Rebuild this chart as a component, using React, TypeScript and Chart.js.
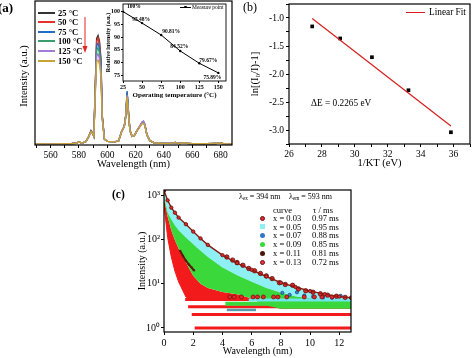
import React, { useEffect, useRef } from 'react';
import { Chart, registerables } from 'chart.js';
Chart.register(...registerables);

const FONT = "'Liberation Serif', 'Times New Roman', serif";
Chart.defaults.font.family = FONT;
Chart.defaults.color = '#000';

// ---------- Panel (a): emission spectra ----------
const wavelengths = [549, 560, 570, 575, 578, 580, 582, 585, 587, 588.5, 589.5, 590.5, 591.5, 592.5, 593.5, 594.5, 595.5, 596.5, 598, 600, 605, 608, 610, 612, 613, 614, 615, 616, 617.5, 619, 621, 623, 624.5, 625.5, 626.5, 628, 630, 633, 638, 645, 648, 651, 655, 657, 660, 670, 677, 679, 682, 688];
const spec25 = [0.8, 0.8, 0.9, 1.0, 1.2, 2.2, 1.2, 2.5, 6, 10, 8.5, 6, 40, 74, 76, 72, 60, 20, 4, 2.5, 2.2, 2.8, 9, 13, 20, 36, 22, 10, 6, 6.5, 10, 13, 15.5, 16, 14, 7, 3, 1.6, 1.2, 1.1, 1.8, 1.1, 1.6, 1.0, 0.9, 0.9, 1.0, 1.5, 0.9, 0.8];
const spec50 = [0.8, 0.8, 0.9, 1.0, 1.2, 2.2, 1.2, 2.5, 6, 9.8, 8.4, 6, 39, 72, 74.3, 70, 58, 19.5, 4, 2.5, 2.2, 2.8, 9, 13, 20, 36.5, 22, 10, 6, 6.5, 10, 13, 15.5, 16, 14, 7, 3, 1.6, 1.2, 1.1, 1.8, 1.1, 1.6, 1.0, 0.9, 0.9, 1.0, 1.5, 0.9, 0.8];
const spec75 = [0.8, 0.8, 0.9, 1.0, 1.2, 2.2, 1.2, 2.5, 6, 9.6, 8.3, 6, 38, 69, 70.8, 67, 56, 19, 4, 2.5, 2.2, 2.8, 9, 13, 20.5, 37.5, 22.5, 10, 6, 6.5, 10, 13, 15.5, 16.2, 14, 7, 3, 1.6, 1.2, 1.1, 1.8, 1.1, 1.6, 1.0, 0.9, 0.9, 1.0, 1.5, 0.9, 0.8];
const spec100 = [0.8, 0.8, 0.9, 1.0, 1.2, 2.2, 1.2, 2.5, 6, 9.4, 8.2, 6, 37, 66, 67.4, 64, 54, 18.5, 4, 2.5, 2.2, 2.8, 9, 13, 19.5, 35, 21.5, 10, 6, 6.5, 10, 13.2, 15.8, 16.3, 14.2, 7, 3, 1.6, 1.2, 1.1, 1.8, 1.1, 1.6, 1.0, 0.9, 0.9, 1.0, 1.5, 0.9, 0.8];
const spec125 = [0.8, 0.8, 0.9, 1.0, 1.2, 2.2, 1.2, 2.5, 6, 9.2, 8.1, 6, 36, 62, 63.2, 60, 51, 18, 4, 2.5, 2.2, 2.8, 9, 13, 19.5, 34.5, 21, 10, 6, 6.5, 10, 13.4, 16, 16.7, 14.5, 7, 3, 1.6, 1.2, 1.1, 1.8, 1.1, 1.6, 1.0, 0.9, 0.9, 1.0, 1.5, 0.9, 0.8];
const spec150 = [0.8, 0.8, 0.9, 1.0, 1.2, 2.2, 1.2, 2.5, 6, 9.0, 8.0, 6, 35, 58, 59, 56, 48, 17.5, 4, 2.5, 2.2, 2.8, 9, 13, 19, 33.5, 20.5, 10, 6, 6.5, 10, 12.8, 14.5, 15, 13.5, 7, 3, 1.6, 1.2, 1.1, 1.8, 1.1, 1.6, 1.0, 0.9, 0.9, 1.0, 1.5, 0.9, 0.8];
const tempLabels = ['25 °C', '50 °C', '75 °C', '100 °C', '125 °C', '150 °C'];
const tempColors = ['#333333', '#e8302a', '#1f6fc4', '#3a9e6e', '#a27ad8', '#c9a23a'];
const spectra = [spec25, spec50, spec75, spec100, spec125, spec150];
const wlTicks = [550, 560, 570, 580, 590, 600, 610, 620, 630, 640, 650, 660, 670, 680];

// inset
const opTemp = [25, 50, 75, 100, 125, 150];
const relIntensity = [100, 95.48, 90.81, 84.52, 79.67, 75.89];
const relLabels = ['100%', '95.48%', '90.81%', '84.52%', '79.67%', '75.89%'];
const insetXTicks = [25, 50, 75, 100, 125, 150];
const insetYTicks = [75, 80, 85, 90, 95, 100];

// ---------- Panel (b) ----------
const invKT = [27.41, 29.11, 31.04, 33.26, 35.84];
const lnRatio = [-1.15, -1.365, -1.70, -2.29, -3.04];
const fitX = [27.41, 35.84];
const fitY = [-1.01, -2.93];

// ---------- Panel (c): decay curves ----------
const tBand = [0, 0.25, 0.5, 0.75, 1, 1.5, 2, 2.5, 3, 4, 5, 6, 7, 8, 9, 10, 11, 12, 12.8];
const topI = [1250, 760, 520, 400, 310, 220, 150, 105, 75, 44, 29, 20.5, 14.5, 10.5, 8.4, 6.8, 5.8, 5.1, 4.8];
const greenUp = [900, 400, 280, 205, 160, 110, 78, 55, 40, 23, 15.5, 11, 8, 6.2, 5.1, 4.6, 4.3, 4.1, 4.0];
const greenLo = [850, 330, 160, 95, 62, 30, 15, 10, 8, 6.5, 5.8, 4.6, 3.2, 2.7, 2.7, 2.7, 2.7, 2.7, 2.7];
const redLo = [600, 110, 40, 19, 11, 5, 4.2, 4.2, 4.2, 4.2, 4.2, 4.2, 4.2, 4.2, 4.2, 4.2, 4.2, 4.2, 4.2];
const tEnd = 12.8;
const redFloorLevel = [4.4, 3, 2, 1];
const redFloorStart = [1.45, 1.65, 1.9, 2.1];
const greenFloor = { level: 3.5, start: 4.2 };
const blueFloor = { level: 2.55, start: 4.3, end: 6.3 };
const cyanFloor = { level: 4.3, start: 5.8 };
const tTopDots = [4.3, 4.7, 5.0, 5.4, 5.8, 6.2, 6.6, 7.0, 7.4, 7.9, 8.3, 8.8, 9.2, 9.7, 10.2, 10.7, 11.2, 11.8, 12.4];
const vTopDots = [40, 34, 30, 26, 22, 19.5, 17, 15, 13, 10.5, 9.6, 9.2, 7.6, 6.9, 6.4, 5.9, 5.5, 5.2, 4.9];
const tRedDots = [4.5, 4.8, 5.3, 6.1, 6.4, 6.8, 7.5, 7.8, 8.4, 9.6, 10.3, 10.8, 11.5];
const vRedDots = [5, 5, 5, 5, 5, 5, 5, 5, 5, 5, 5, 5, 5];
const tBlueDots = [8.1, 8.6, 9.1, 9.6, 10.2, 10.9, 11.5, 12.1];
const vBlueDots = [6.2, 5.6, 6.4, 5.4, 5.1, 4.9, 4.8, 5.3];
const tBrown = [1.1, 1.3, 1.5, 1.7, 1.9, 2.05];
const vBrown = [55, 42, 33, 27, 23, 20];
const curveNames = ['x = 0.03', 'x = 0.05', 'x = 0.07', 'x = 0.09', 'x = 0.11', 'x = 0.13'];
const tauValues = ['0.97 ms', '0.95 ms', '0.88 ms', '0.85 ms', '0.81 ms', '0.72 ms'];
const curveColors = ['#e02a2a', '#8ff0f4', '#2f78c8', '#3ad83a', '#4a140a', '#f0303c'];

const pts = (xs: number[], ys: number[]) => xs.map((x, i) => ({ x, y: ys[i] }));

const fitW = (w: number) => (s: any) => { s.width = w; s.paddingLeft = 0; s.paddingRight = 0; s.paddingTop = 0; s.paddingBottom = 0; };
const fitH = (h: number) => (s: any) => { s.height = h; s.paddingLeft = 0; s.paddingRight = 0; s.paddingTop = 0; s.paddingBottom = 0; };
const fixedTicks = (vals: number[]) => (s: any) => { s.ticks = vals.map((v) => ({ value: v })); };

const framePlugin = {
  id: 'frame',
  afterDatasetsDraw(chart: any) {
    const { ctx, chartArea: a } = chart;
    const w = chart.options.plugins.frame?.width ?? 1.2;
    ctx.save();
    ctx.strokeStyle = '#000';
    ctx.lineWidth = w;
    ctx.strokeRect(a.left, a.top, a.right - a.left, a.bottom - a.top);
    ctx.restore();
  },
};

const whiteAreaPlugin = {
  id: 'whiteArea',
  beforeDatasetsDraw(chart: any) {
    const { ctx, chartArea: a } = chart;
    ctx.save();
    ctx.fillStyle = '#fff';
    ctx.fillRect(a.left, a.top, a.right - a.left, a.bottom - a.top);
    ctx.restore();
  },
};

const arrowPlugin = {
  id: 'arrow',
  afterDraw(chart: any) {
    const ctx = chart.ctx;
    ctx.save();
    ctx.strokeStyle = '#e8221e';
    ctx.fillStyle = '#e8221e';
    ctx.lineWidth = 1;
    ctx.beginPath();
    ctx.moveTo(85, 17);
    ctx.lineTo(85, 47);
    ctx.stroke();
    ctx.beginPath();
    ctx.moveTo(82.5, 46);
    ctx.lineTo(87.5, 46);
    ctx.lineTo(85, 53);
    ctx.closePath();
    ctx.fill();
    ctx.restore();
  },
};

const labelOffsets: [number, number, CanvasTextAlign][] = [[4, -5, 'left'], [-1, -4, 'center'], [1, -3, 'left'], [-1, -4, 'center'], [0, -3, 'left'], [-6, 5, 'center']];
const insetLabelPlugin = {
  id: 'insetLabels',
  afterDatasetsDraw(chart: any) {
    const { ctx } = chart;
    const xs = chart.scales.x, ys = chart.scales.y;
    ctx.save();
    ctx.font = `bold 5.5px ${FONT}`;
    ctx.fillStyle = '#000';
    ctx.textBaseline = 'middle';
    opTemp.forEach((t, i) => {
      const [dx, dy, al] = labelOffsets[i];
      ctx.textAlign = al;
      ctx.fillText(relLabels[i], xs.getPixelForValue(t) + dx, ys.getPixelForValue(relIntensity[i]) + dy);
    });
    ctx.restore();
  },
};

const tickGrid = (len: number) => ({ display: true, drawOnChartArea: false, drawTicks: true, tickLength: len, color: '#000', lineWidth: 1 });

function useChart(ref: any, make: () => any) {
  useEffect(() => {
    const chart = new Chart(ref.current, make());
    return () => chart.destroy();
  }, []);
}

const baseOpts = { animation: false, responsive: false, devicePixelRatio: 1, plugins: { legend: { display: false }, tooltip: { enabled: false } } };

function PanelA() {
  const ref = useRef<HTMLCanvasElement>(null);
  useChart(ref, () => ({
    type: 'line',
    data: {
      datasets: spectra.map((s, i) => ({
        label: tempLabels[i], data: pts(wavelengths, s), borderColor: tempColors[i], borderWidth: 1.4,
        pointRadius: 0, tension: 0, fill: false, order: 5 - i,
      })),
    },
    options: {
      ...baseOpts,
      layout: { padding: { left: 0, top: 1, right: 5, bottom: 0 } },
      scales: {
        x: {
          type: 'linear', min: 549, max: 688, bounds: 'data', afterFit: fitH(35), afterBuildTicks: fixedTicks(wlTicks),
          ticks: { autoSkip: false, maxRotation: 0, padding: 2, font: { size: 9.5 }, callback: (v: number) => (v % 20 === 0 ? String(v) : '') },
          grid: tickGrid(3), border: { display: false },
          title: { display: true, text: 'Wavelength (nm)', font: { size: 10.5 }, padding: { top: 0, bottom: 9 } },
        },
        y: {
          type: 'linear', min: 0, max: 100, bounds: 'data', afterFit: fitW(35),
          ticks: { display: false }, grid: { display: false }, border: { display: false },
        },
      },
    },
    plugins: [framePlugin, arrowPlugin],
  }));
  return <canvas ref={ref} width={237} height={180} style={{ position: 'absolute', left: 0, top: 0, width: 237, height: 180 }} />;
}

function Inset() {
  const ref = useRef<HTMLCanvasElement>(null);
  useChart(ref, () => ({
    type: 'line',
    data: {
      datasets: [{
        label: 'Measure point', data: pts(opTemp, relIntensity), borderColor: '#000', borderWidth: 1,
        pointRadius: 1.2, pointBackgroundColor: '#000', pointBorderWidth: 0, tension: 0, fill: false,
      }],
    },
    options: {
      ...baseOpts,
      plugins: { ...baseOpts.plugins, frame: { width: 0.9 } },
      layout: { padding: { left: 0, top: 1, right: 6, bottom: 0 } },
      scales: {
        x: {
          type: 'linear', min: 25, max: 160, bounds: 'data', afterFit: fitH(19), afterBuildTicks: fixedTicks(insetXTicks),
          ticks: { autoSkip: false, maxRotation: 0, padding: 1, font: { size: 6, weight: 'bold' } },
          grid: tickGrid(2), border: { display: false },
          title: { display: true, text: 'Operating temperature (°C)', font: { size: 7, weight: 'bold' }, padding: { top: 0, bottom: 0.8 } },
        },
        y: {
          type: 'linear', min: 72.7, max: 103, bounds: 'data', afterFit: fitW(20), afterBuildTicks: fixedTicks(insetYTicks),
          ticks: { autoSkip: false, padding: 1, font: { size: 6, weight: 'bold' } },
          grid: tickGrid(2), border: { display: false },
          title: { display: true, text: 'Relative intensity (a.u.)', font: { size: 6, weight: 'bold' }, padding: { top: 1.4, bottom: 0 } },
        },
      },
    },
    plugins: [whiteAreaPlugin, framePlugin, insetLabelPlugin],
  }));
  return <canvas ref={ref} width={129} height={100} style={{ position: 'absolute', left: 103, top: 0, width: 129, height: 100 }} />;
}

function PanelB() {
  const ref = useRef<HTMLCanvasElement>(null);
  useChart(ref, () => ({
    type: 'scatter',
    data: {
      datasets: [
        { label: 'Linear Fit', data: pts(fitX, fitY), showLine: true, borderColor: '#d81e1e', borderWidth: 1.2, pointRadius: 0, order: 0 },
        { label: 'data', data: pts(invKT, lnRatio), pointStyle: 'rect', pointRadius: 2.6, backgroundColor: '#000', borderColor: '#000', borderWidth: 0, order: 1 },
      ],
    },
    options: {
      ...baseOpts,
      layout: { padding: { left: 0, top: 1, right: 1, bottom: 0 } },
      scales: {
        x: {
          type: 'linear', min: 26, max: 37, bounds: 'data', afterFit: fitH(36),
          ticks: { stepSize: 1, autoSkip: false, maxRotation: 0, padding: 2, font: { size: 9.5 }, callback: (v: number) => (v % 2 === 0 ? String(v) : '') },
          grid: tickGrid(3), border: { display: false },
          title: { display: true, text: '1/KT (eV)', font: { size: 10.5 }, padding: { top: 0, bottom: 10 } },
        },
        y: {
          type: 'linear', min: -3.25, max: -0.75, bounds: 'data', afterFit: fitW(52),
          ticks: { stepSize: 0.25, autoSkip: false, padding: 2, font: { size: 9.5 }, callback: (v: number) => (Math.abs(v * 2 - Math.round(v * 2)) < 1e-6 ? v.toFixed(1) : '') },
          grid: tickGrid(3), border: { display: false },
          title: { display: true, text: 'ln[(I₀/I)-1]', font: { size: 10.5 }, padding: { top: 11.5, bottom: 0 } },
        },
      },
    },
    plugins: [framePlugin],
  }));
  return <canvas ref={ref} width={237} height={180} style={{ position: 'absolute', left: 237, top: 0, width: 237, height: 180 }} />;
}

const SUP = ['⁰', '¹', '²', '³', '⁴'];
const isPow10 = (v: number) => Math.abs(Math.log10(v) - Math.round(Math.log10(v))) < 1e-6;

function PanelC() {
  const ref = useRef<HTMLCanvasElement>(null);
  useChart(ref, () => {
    const line = (data: any[], color: string, width: number, order: number) => ({
      data, borderColor: color, borderWidth: width, pointRadius: 0, tension: 0, fill: false, order, borderCapStyle: 'butt',
    });
    const dots = (data: any[], bg: string, border: string, r: number, order: number) => ({
      data, showLine: false, pointRadius: r, pointBackgroundColor: bg, pointBorderColor: border, pointBorderWidth: 0.8, order,
    });
    const datasets: any[] = [
      { data: pts(tBand, topI), borderColor: '#8a1a12', borderWidth: 1.4, pointRadius: 1.7, pointBackgroundColor: '#e02a2a', pointBorderColor: '#5a0e0a', pointBorderWidth: 0.8, tension: 0, fill: false, order: 0 },
      dots(pts(tTopDots, vTopDots), '#e02a2a', '#5a0e0a', 2.2, 0.5),
      dots(pts(tRedDots, vRedDots), '#e8282e', '#7a1010', 2.0, 1),
      dots(pts(tBlueDots, vBlueDots), '#3a86d0', '#1a4a8a', 1.6, 1.2),
      { data: pts(tBrown, vBrown), borderColor: '#5a1a0a', borderWidth: 2, pointRadius: 1.2, pointBackgroundColor: '#5a1a0a', pointBorderWidth: 0, tension: 0, fill: false, order: 1.5 },
      line([{ x: cyanFloor.start, y: cyanFloor.level }, { x: tEnd, y: cyanFloor.level }], '#6fe6ee', 3, 2),
      line([{ x: blueFloor.start, y: blueFloor.level }, { x: blueFloor.end, y: blueFloor.level }], '#5a9aa8', 2.5, 2.2),
      line([{ x: greenFloor.start, y: greenFloor.level }, { x: tEnd, y: greenFloor.level }], '#3ad83a', 4, 2.5),
      // cyan band (x = 0.05)
      { data: pts(tBand, topI), borderColor: 'rgba(0,0,0,0)', borderWidth: 0, pointRadius: 0, tension: 0, fill: 9, backgroundColor: '#8ff0f4', order: 3 },
      // green band (x = 0.09)
      { data: pts(tBand, greenUp), borderColor: '#3ad83a', borderWidth: 1, pointRadius: 0, tension: 0, fill: 10, backgroundColor: '#3ad83a', order: 4 },
      // red band (x = 0.13)
      { data: pts(tBand, greenLo), borderColor: 'rgba(0,0,0,0)', borderWidth: 0, pointRadius: 0, tension: 0, fill: 11, backgroundColor: '#f21a1a', order: 5 },
      { data: pts(tBand, redLo), borderColor: '#f21a1a', borderWidth: 1, pointRadius: 0, tension: 0, fill: false, order: 6 },
    ];
    redFloorLevel.forEach((lv, i) => {
      datasets.push(line([{ x: redFloorStart[i], y: lv }, { x: tEnd, y: lv }], '#f21a1a', 3, 7));
    });
    return {
      type: 'line',
      data: { datasets },
      options: {
        ...baseOpts,
        layout: { padding: { left: 0, top: 10, right: 49, bottom: 0 } },
        scales: {
          x: {
            type: 'linear', min: 0, max: 12.8, bounds: 'data', afterFit: fitH(26),
            ticks: { stepSize: 2, includeBounds: false, autoSkip: false, maxRotation: 0, padding: 2, font: { size: 10 } },
            grid: tickGrid(3), border: { display: false },
            title: { display: true, text: 'Wavelength (nm)', font: { size: 10 }, padding: { top: 0, bottom: 0.3 } },
          },
          y: {
            type: 'logarithmic', min: 0.81, max: 1300, bounds: 'data', afterFit: fitW(64),
            afterBuildTicks: (s: any) => { s.ticks = s.ticks.filter((t: any) => isPow10(t.value)); },
            ticks: { autoSkip: false, padding: 1, font: { size: 10 }, callback: (v: number) => (isPow10(v) ? '10' + SUP[Math.round(Math.log10(v))] : '') },
            grid: tickGrid(3), border: { display: false },
            title: { display: true, text: 'Intensity (a.u.)', font: { size: 10 }, padding: { top: 36, bottom: 0 } },
          },
        },
      },
      plugins: [framePlugin],
    };
  });
  return <canvas ref={ref} width={300} height={178} style={{ position: 'absolute', left: 100, top: 180, width: 300, height: 178 }} />;
}

const Txt = ({ x, y, size, bold, children, anchor }: any) => (
  <div style={{
    position: 'absolute', left: x, top: y - size * 0.6, fontSize: size, lineHeight: `${size * 1.2}px`,
    fontWeight: bold ? 'bold' : 'normal', whiteSpace: 'nowrap', color: '#000',
    transform: anchor === 'center' ? 'translateX(-50%)' : anchor === 'right' ? 'translateX(-100%)' : undefined,
  }}>{children}</div>
);

const legendAY = [13.3, 22.3, 31.7, 41.3, 51, 60.7];
const legendCY = [218, 226.7, 235.3, 244.3, 253.5, 262.5];
const subStyle = { fontSize: '65%', verticalAlign: '-0.25em' };

export default function App() {
  return (
    <div style={{ position: 'fixed', left: 0, top: 0, width: 474, height: 358, background: '#fff', overflow: 'hidden', fontFamily: FONT }}>
      <PanelA />
      <Inset />
      <PanelB />
      <PanelC />
      {/* panel (a) annotations */}
      <Txt x={-2} y={8} size={13} bold>(a)</Txt>
      <div style={{ position: 'absolute', left: 24, top: 76, transform: 'translate(-50%, -50%) rotate(-90deg)', fontSize: 10.5, lineHeight: '12px', whiteSpace: 'nowrap' }}>Intensity (a.u.)</div>
      {tempLabels.map((l, i) => (
        <React.Fragment key={l}>
          <div style={{ position: 'absolute', left: 38, top: legendAY[i] - 1.2, width: 17, height: 2.4, background: tempColors[i] }} />
          <Txt x={58} y={legendAY[i]} size={8.5} bold>{l}</Txt>
        </React.Fragment>
      ))}
      <div style={{ position: 'absolute', left: 180, top: 6.5, width: 11, height: 1, background: '#000' }} />
      <div style={{ position: 'absolute', left: 184.2, top: 5.7, width: 2.6, height: 2.6, borderRadius: '50%', background: '#000' }} />
      <Txt x={192} y={7} size={5.5}>Measure point</Txt>
      {/* panel (b) annotations */}
      <Txt x={243} y={7} size={12}>(b)</Txt>
      <div style={{ position: 'absolute', left: 406, top: 11.6, width: 19, height: 1.3, background: '#d81e1e' }} />
      <Txt x={429} y={12.3} size={9.3}>Linear Fit</Txt>
      <Txt x={311} y={104} size={9.3}>ΔE = 0.2265 eV</Txt>
      {/* panel (c) annotations */}
      <Txt x={112} y={195} size={11.5} bold>(c)</Txt>
      <Txt x={239} y={197} size={8}>λ<sub style={subStyle}>ex</sub> = 394 nm</Txt>
      <Txt x={289} y={197} size={8}>λ<sub style={subStyle}>em</sub> = 593 nm</Txt>
      <Txt x={282.5} y={210} size={8.5} anchor="center">curve</Txt>
      <Txt x={323} y={210} size={8.5} anchor="center">τ / ms</Txt>
      {curveNames.map((n, i) => (
        <React.Fragment key={n}>
          <div style={{
            position: 'absolute', left: 259.5, top: legendCY[i] - 2.5, width: 5, height: 5,
            borderRadius: i === 1 ? 0 : '50%', background: curveColors[i],
            boxSizing: 'border-box', border: i === 0 || i === 5 ? '0.8px solid #6a1010' : 'none',
          }} />
          <Txt x={273} y={legendCY[i]} size={8.5}>{n}</Txt>
          <Txt x={312} y={legendCY[i]} size={8.5}>{tauValues[i]}</Txt>
        </React.Fragment>
      ))}
    </div>
  );
}
